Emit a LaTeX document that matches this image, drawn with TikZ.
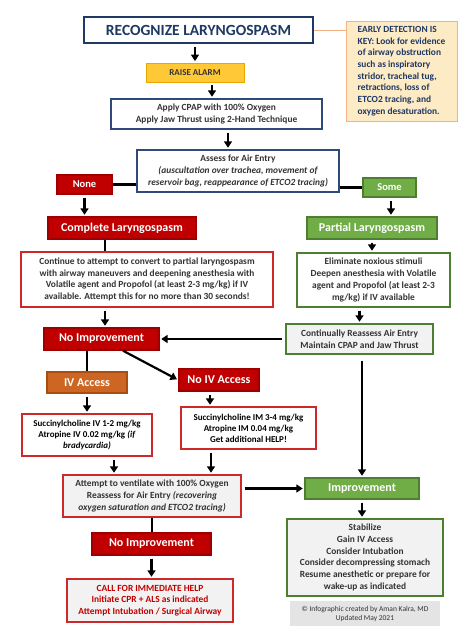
\documentclass[tikz,border=0pt]{standalone}
\usepackage{fontspec}
\setmainfont{Carlito}
\usetikzlibrary{arrows.meta,calc}
\definecolor{navy}{HTML}{1F3864}
\definecolor{navyb}{HTML}{2F4A78}
\definecolor{dred}{HTML}{C00000}
\definecolor{dredb}{HTML}{9E0000}
\definecolor{rborder}{HTML}{CC2A2A}
\definecolor{gfill}{HTML}{70AD47}
\definecolor{gborder}{HTML}{4E7F30}
\definecolor{ofill}{HTML}{CC6622}
\definecolor{oborder}{HTML}{A84E12}
\definecolor{gold}{HTML}{FFC837}
\definecolor{goldb}{HTML}{EAA600}
\definecolor{efill}{HTML}{FDEBC6}
\definecolor{eborder}{HTML}{F4B183}
\definecolor{lgray}{HTML}{F2F2F2}
\definecolor{cgray}{HTML}{E4E4E4}
\definecolor{txt}{HTML}{333333}
\tikzset{
  bx/.style={draw, align=center, inner sep=0pt, line width=1.4pt, text=txt,
    font=\bfseries\fontsize{9.4}{11.7}\selectfont},
  wnavy/.style={bx, draw=navyb, fill=white},
  wred/.style={bx, draw=rborder, fill=white},
  gred/.style={bx, draw=rborder, fill=lgray},
  wgreen/.style={bx, draw=gborder, fill=white},
  ggreen/.style={bx, draw=gborder, fill=lgray},
  redlabel/.style={bx, draw=dredb, fill=dred, text=white, font=\bfseries\fontsize{12}{14}\selectfont},
  greenlabel/.style={bx, draw=gborder, fill=gfill, text=white, font=\bfseries\fontsize{12}{14}\selectfont},
  arr/.style={line width=2.2pt, -{Triangle[length=6.5pt,width=8pt]}, shorten >=1.5pt, shorten <=3pt},
  ln/.style={line width=2.2pt},
}
\begin{document}
\begin{tikzpicture}[x=1pt,y=-1pt]
\useasboundingbox (0,0) rectangle (474,632);
\fill[white] (0,0) rectangle (474,632);

\node[bx, draw=navy, line width=2.6pt, fill=white, text=navy, minimum width=229pt, minimum height=26pt,
  font=\bfseries\fontsize{15.5}{18}\selectfont] (title) at (198.5,30) {RECOGNIZE LARYNGOSPASM};
\node[bx, draw=eborder, fill=efill, text=navy, line width=1pt, minimum width=111pt, minimum height=100pt,
  align=left] (early) at (401.5,71) {EARLY DETECTION IS\\KEY: Look for evidence\\of airway obstruction\\such as inspiratory\\stridor, tracheal tug,\\retractions, loss of\\ETCO2 tracing, and\\oxygen desaturation.};
\node[bx, draw=goldb, fill=gold, line width=0.8pt, minimum width=98pt, minimum height=19pt,
  font=\bfseries\fontsize{9}{11}\selectfont] (alarm) at (195,72.5) {RAISE ALARM};
\node[wnavy, minimum width=211pt, minimum height=30pt] (cpap) at (216.5,114) {Apply CPAP with 100\% Oxygen\\Apply Jaw Thrust using 2-Hand Technique};
\node[wnavy, minimum width=202pt, minimum height=42pt] (assess) at (238,171) {Assess for Air Entry\\\itshape (auscultation over trachea, movement of\\\itshape reservoir bag, reappearance of ETCO2 tracing)};
\node[redlabel, minimum width=55pt, minimum height=19pt, font=\bfseries\fontsize{10.5}{12}\selectfont] (none) at (84.5,184.5) {None};
\node[greenlabel, minimum width=53pt, minimum height=19pt, font=\bfseries\fontsize{10.5}{12}\selectfont] (some) at (389.5,187.5) {Some};
\node[redlabel, minimum width=148pt, minimum height=22pt] (complete) at (122,228) {Complete Laryngospasm};
\node[greenlabel, minimum width=130pt, minimum height=22pt] (partial) at (372,228) {Partial Laryngospasm};
\node[wred, minimum width=252pt, minimum height=55pt] (cont) at (147,279.5) {Continue to attempt to convert to partial laryngospasm\\with airway maneuvers and deepening anesthesia with\\Volatile agent and Propofol (at least 2-3 mg/kg) if IV\\available. Attempt this for no more than 30 seconds!};
\node[wgreen, minimum width=153pt, minimum height=54pt] (elim) at (373.5,280) {Eliminate noxious stimuli\\Deepen anesthesia with Volatile\\agent and Propofol (at least 2-3\\mg/kg) if IV available};
\node[redlabel, minimum width=115pt, minimum height=22pt] (noimp1) at (101.5,339) {No Improvement};
\node[ggreen, minimum width=147pt, minimum height=30pt] (contin) at (359.5,339) {Continually Reassess Air Entry\\Maintain CPAP and Jaw Thrust};
\node[redlabel, draw=oborder, fill=ofill, minimum width=80pt, minimum height=21pt] (iv) at (87,382.5) {IV Access};
\node[redlabel, minimum width=80pt, minimum height=22pt] (noiv) at (219,380) {No IV Access};
\node[wred, text=black, minimum width=130pt, minimum height=42pt, font=\bfseries\fontsize{9}{11}\selectfont] (succiv) at (87,435) {Succinylcholine IV 1-2 mg/kg\\Atropine IV 0.02 mg/kg \textit{(if}\\\textit{bradycardia)}};
\node[wred, text=black, minimum width=135pt, minimum height=42pt, font=\bfseries\fontsize{9}{11}\selectfont] (succim) at (248.5,428) {Succinylcholine IM 3-4 mg/kg\\Atropine IM 0.04 mg/kg\\Get additional HELP!};
\node[gred, minimum width=178pt, minimum height=42pt] (attempt) at (152,496) {Attempt to ventilate with 100\% Oxygen\\Reassess for Air Entry \textit{(recovering}\\\textit{oxygen saturation and ETCO2 tracing)}};
\node[greenlabel, minimum width=114pt, minimum height=21pt] (improv) at (362,488.5) {Improvement};
\node[ggreen, minimum width=156pt, minimum height=77pt] (stab) at (365,557.5) {Stabilize\\Gain IV Access\\Consider Intubation\\Consider decompressing stomach\\Resume anesthetic or prepare for\\wake-up as indicated};
\node[redlabel, minimum width=119pt, minimum height=22pt] (noimp2) at (151.5,544) {No Improvement};
\node[gred, text=dred, minimum width=166pt, minimum height=43pt] (call) at (150,600.5) {CALL FOR IMMEDIATE HELP\\Initiate CPR + ALS as indicated\\Attempt Intubation / Surgical Airway};
\node[bx, draw=none, fill=cgray, text=txt, minimum width=150pt, minimum height=25pt,
  font=\fontsize{7.5}{9}\selectfont] (copy) at (365,613.5) {\textcopyright{} Infographic created by Aman Kalra, MD\\Updated May 2021};

% connectors
\draw[eborder, line width=1pt] (title.east) -- (title.east -| early.west);
\draw[arr] (alarm.north |- title.south) -- (alarm.north);
\draw[arr] ([xshift=-4.5pt]cpap.north |- alarm.south) -- ([xshift=-4.5pt]cpap.north);
\draw[arr] ([xshift=-10pt]assess.north |- cpap.south) -- ([xshift=-10pt]assess.north);
\draw[ln] (assess.west |- none.east) -- (none.east);
\draw[ln] (assess.east |- some.west) -- (some.west);
\draw[arr] (none.south) -- (none.south |- complete.north);
\draw[arr] ([xshift=1.5pt]some.south) -- ([xshift=1.5pt]some.south |- partial.north);
\draw[ln] ([xshift=-17pt]complete.south) -- ([xshift=-17pt]complete.south |- cont.north);
\draw[arr] (partial.south) -- (partial.south |- elim.north);
\draw[arr] ([xshift=3.5pt]noimp1.north |- cont.south) -- ([xshift=3.5pt]noimp1.north);
\draw[arr] (contin.north |- elim.south) -- (contin.north);
\draw[arr] (contin.west) -- (noimp1.east);
\draw[ln] (iv.north |- noimp1.south) -- (iv.north);
\draw[arr, shorten <=0pt] ([xshift=21.5pt]noimp1.south) -- (noiv.west);
\draw[arr] (iv.south) -- (iv.south |- succiv.north);
\draw[arr] ([xshift=-9pt]noiv.south) -- ([xshift=-9pt]noiv.south |- succim.north);
\draw[arr] ([xshift=27pt]succiv.south) -- ([xshift=27pt]succiv.south |- attempt.north);
\draw[arr] ([xshift=-37.5pt]succim.south) -- ([xshift=-37.5pt]succim.south |- attempt.north);
\coordinate (c1) at ([yshift=-3pt]contin.south);
\draw[arr] (c1 -| improv.north) -- (improv.north);
\draw[arr] (attempt.east |- improv.west) -- (improv.west);
\draw[arr] (improv.south) -- (improv.south |- stab.north);
\draw[ln] (attempt.south) -- (attempt.south |- noimp2.north);
\draw[arr] (noimp2.south) -- (noimp2.south |- call.north);
\end{tikzpicture}
\end{document}
